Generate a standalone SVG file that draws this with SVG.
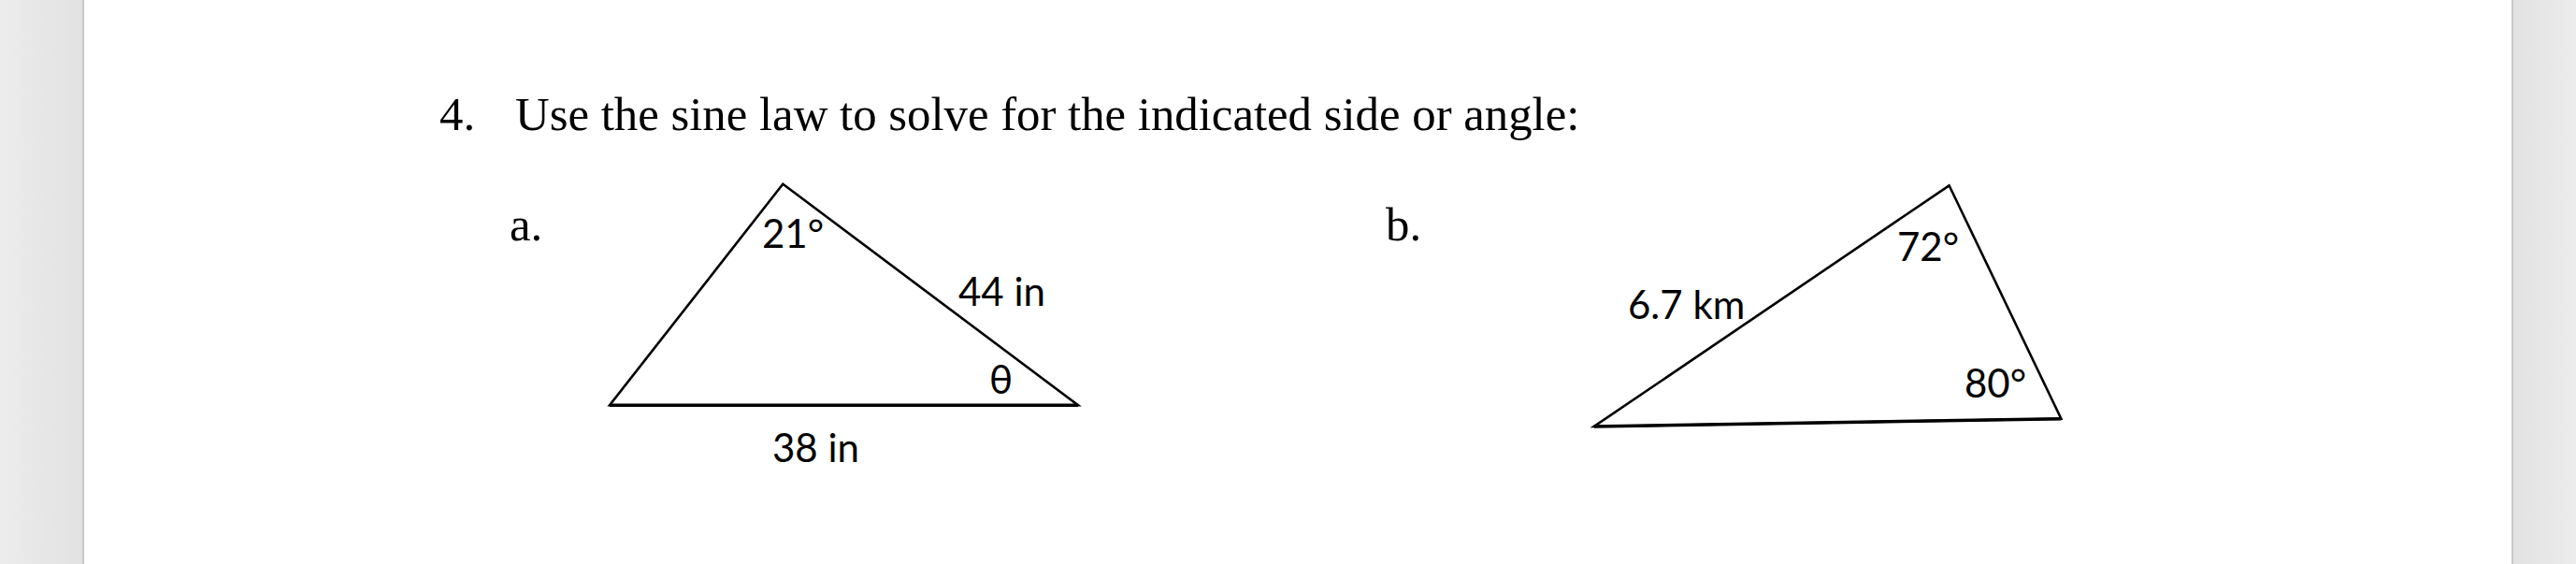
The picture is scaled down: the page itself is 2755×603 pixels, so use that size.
<svg xmlns="http://www.w3.org/2000/svg" width="2755" height="603" viewBox="0 0 2755 603">
<style>
.serif{font-family:"Liberation Serif","Times New Roman",serif;font-size:50.8px;fill:#000}
.lbl{font-family:Lato,"Noto Sans","DejaVu Sans",sans-serif;font-size:42px;fill:#000}
.tri{fill:#fff;stroke:#000;stroke-width:2.6;stroke-linejoin:miter}
.base{stroke:#000;stroke-width:3.6;fill:none}
</style>
<defs>
<linearGradient id="gl" x1="0" y1="0" x2="1" y2="0">
<stop offset="0" stop-color="#ececec"/><stop offset="1" stop-color="#e2e2e2"/>
</linearGradient>
<linearGradient id="gr" x1="1" y1="0" x2="0" y2="0">
<stop offset="0" stop-color="#ececec"/><stop offset="1" stop-color="#e2e2e2"/>
</linearGradient>
</defs>
<g id="page">
<rect x="0" y="0" width="2755" height="603" fill="#fff"/>
<rect x="0" y="0" width="88" height="603" fill="url(#gl)"/>
<rect x="88" y="0" width="2" height="603" fill="#c9c9c9"/>
<rect x="2688" y="0" width="67" height="603" fill="url(#gr)"/>
<rect x="2686" y="0" width="2" height="603" fill="#c9c9c9"/>
</g>
<g id="title">
<text class="serif" x="470" y="139">4.</text>
<text class="serif" x="551" y="139">Use the sine law to solve for the indicated side or angle:</text>
</g>
<g id="triangle-a">
<text class="serif" x="545" y="257">a.</text>
<polygon class="tri" points="837.3,196.7 652,433.3 1153,433.3"/>
<line class="base" x1="652" y1="433.3" x2="1153" y2="433.3"/>
<text class="lbl" x="815" y="265">21°</text>
<text class="lbl" x="1025" y="327">44 in</text>
<text class="lbl" x="1058" y="421">θ</text>
<text class="lbl" x="826" y="494">38 in</text>
</g>
<g id="triangle-b">
<text class="serif" x="1482" y="257">b.</text>
<polygon class="tri" points="2084.6,198.3 1704.8,456 2204.4,447.7"/>
<line class="base" x1="1704.8" y1="456" x2="2204.4" y2="447.7"/>
<text class="lbl" x="2029" y="279">72°</text>
<text class="lbl" x="1741" y="341">6.7 km</text>
<text class="lbl" x="2101" y="425">80°</text>
</g>
<g id="connectors"/>
</svg>
